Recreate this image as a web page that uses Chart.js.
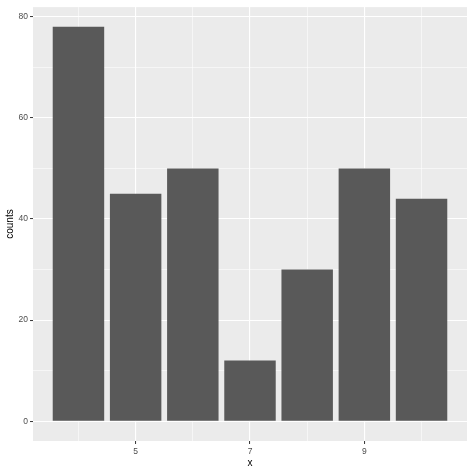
<!DOCTYPE html>
<html>
<head>
<meta charset="utf-8">
<script src="https://cdn.jsdelivr.net/npm/chart.js@4"></script>
<style>
  html, body { margin: 0; padding: 0; background: #ffffff; }
  #wrap { width: 474px; height: 474px; }
</style>
</head>
<body>
<div id="wrap"><canvas id="c" width="474" height="474"></canvas></div>
<script>
const categories = [4, 5, 6, 7, 8, 9, 10];
const counts = [78, 45, 50, 12, 30, 50, 44];
const xTickValues = [4, 5, 6, 7, 8, 9, 10];
const xLabelled = [5, 7, 9];
const yTickValues = [0, 10, 20, 30, 40, 50, 60, 70, 80];
const yLabelled = [0, 20, 40, 60, 80];
const xTitle = 'x';
const yTitle = 'counts';

const panelBg = {
  id: 'panelBg',
  beforeDraw(chart) {
    const a = chart.chartArea, ctx = chart.ctx;
    ctx.save();
    ctx.fillStyle = '#EBEBEB';
    ctx.fillRect(a.left, a.top, a.right - a.left, a.bottom - a.top);
    ctx.restore();
  }
};

const tickFont = { family: 'Liberation Sans, Arial, sans-serif', size: 8.5 };
const titleFont = { family: 'Liberation Sans, Arial, sans-serif', size: 10 };

new Chart(document.getElementById('c'), {
  type: 'bar',
  data: {
    datasets: [{
      data: categories.map((c, i) => ({ x: c, y: counts[i] })),
      backgroundColor: '#595959',
      borderWidth: 0,
      barPercentage: 0.9,
      categoryPercentage: 1.0
    }]
  },
  plugins: [panelBg],
  options: {
    responsive: false,
    animation: false,
    devicePixelRatio: 1,
    layout: { padding: { top: 5, right: 7, left: 0, bottom: 0 } },
    plugins: { legend: { display: false }, tooltip: { enabled: false } },
    scales: {
      x: {
        type: 'linear',
        offset: false,
        min: 3.205,
        max: 10.795,
        afterBuildTicks: s => { s.ticks = xTickValues.map(v => ({ value: v })); },
        afterFit: s => { s.height = 33; },
        border: { display: false },
        grid: {
          offset: false,
          drawTicks: true,
          tickLength: 3,
          color: c => '#FFFFFF',
          lineWidth: c => (xLabelled.includes(c.tick.value) ? 1.1 : 0.55),
          tickColor: c => (xLabelled.includes(c.tick.value) ? '#333333' : 'rgba(0,0,0,0)'),
          tickWidth: 1
        },
        ticks: {
          autoSkip: false,
          maxRotation: 0,
          padding: 3,
          color: '#4D4D4D',
          font: tickFont,
          callback: v => (xLabelled.includes(v) ? String(v) : '')
        },
        title: { display: true, text: xTitle, color: '#000000', font: titleFont, padding: { top: 0, bottom: 4.5 } }
      },
      y: {
        type: 'linear',
        min: -3.9,
        max: 81.9,
        afterBuildTicks: s => { s.ticks = yTickValues.map(v => ({ value: v })); },
        afterFit: s => { s.width = 33; },
        border: { display: false },
        grid: {
          drawTicks: true,
          tickLength: 3,
          color: c => '#FFFFFF',
          lineWidth: c => (yLabelled.includes(c.tick.value) ? 1.1 : 0.55),
          tickColor: c => (yLabelled.includes(c.tick.value) ? '#333333' : 'rgba(0,0,0,0)'),
          tickWidth: 1
        },
        ticks: {
          autoSkip: false,
          padding: 2,
          color: '#4D4D4D',
          font: tickFont,
          callback: v => (yLabelled.includes(v) ? String(v) : '')
        },
        title: { display: true, text: yTitle, color: '#000000', font: titleFont, padding: { top: 4, bottom: 0 } }
      }
    }
  }
});
</script>
</body>
</html>
